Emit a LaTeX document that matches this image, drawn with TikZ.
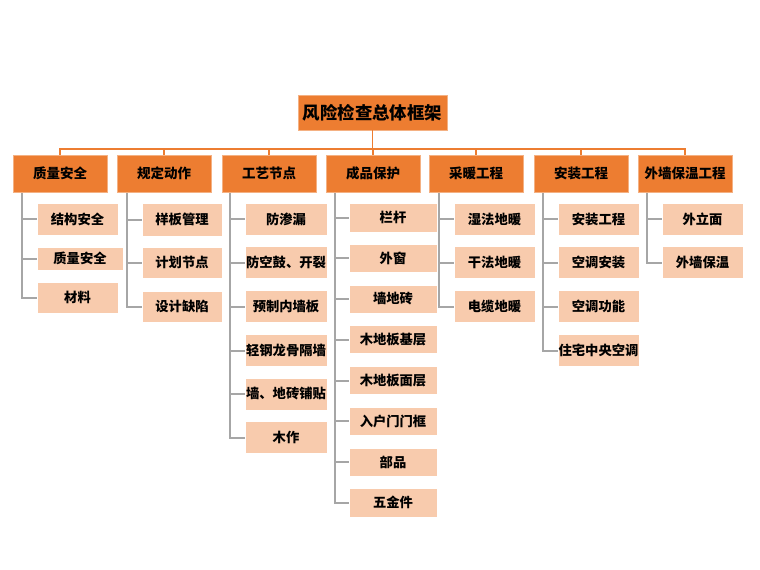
\documentclass[tikz,border=0pt]{standalone}
\usepackage{fontspec}
\newfontfamily\cjk{Noto Sans CJK SC}
\definecolor{org}{HTML}{ED7D31}
\definecolor{orgline}{HTML}{F4B183}
\definecolor{peach}{HTML}{F8CBAD}
\definecolor{gline}{HTML}{A6A6A6}
\tikzset{
  titlebox/.style={draw=orgline, line width=0.8pt, fill=org, inner sep=0pt, minimum width=149pt, minimum height=35pt, font=\cjk\bfseries\fontsize{17.4}{20}\selectfont},
  catbox/.style={draw=orgline, line width=0.6pt, fill=org, inner sep=0pt, minimum width=94pt, minimum height=37pt, font=\cjk\bfseries\fontsize{13.5}{16}\selectfont},
  itembox/.style={draw=white, line width=0.6pt, fill=peach, inner sep=0pt, minimum width=81pt, minimum height=32pt, font=\cjk\bfseries\fontsize{13.3}{16}\selectfont},
  oline/.style={draw=org, line width=1.3pt},
  gl/.style={draw=gline, line width=2pt},
}
\begin{document}
\begin{tikzpicture}[x=1pt, y=-1pt]
\useasboundingbox[fill=white] (0,0) rectangle (760,570);
% title
\node[titlebox] (T) at (372.5,112.5) {风险检查总体框架};
% categories
\node[catbox] (L1) at (60,173.5) {质量安全};
\node[catbox] (L2) at (164,173.5) {规定动作};
\node[catbox] (L3) at (269,173.5) {工艺节点};
\node[catbox] (L4) at (373,173.5) {成品保护};
\node[catbox] (L5) at (476,173.5) {采暖工程};
\node[catbox] (L6) at (581,173.5) {安装工程};
\node[catbox] (L7) at (685,173.5) {外墙保温工程};
\coordinate (bus) at (0,149);
\draw[oline] (T.south) -- (T.south |- bus);
\draw[oline] (L1.north) -- (L1.north |- bus) -- (L7.north |- bus) -- (L7.north);
\foreach \n in {L2,L3,L4,L5,L6} \draw[oline] (\n.north) -- (\n.north |- bus);
% column 1
\node[itembox] (A1) at (77.5,219) {结构安全};
\node[itembox, minimum width=86pt, minimum height=23pt] (A2) at (80,258.5) {质量安全};
\node[itembox, minimum height=31pt] (A3) at (77.5,297.5) {材料};
\coordinate (v1) at (22,193);
\draw[gl] (v1) |- (A3.west);
\foreach \n in {A1,A2} \draw[gl] (v1 |- \n.west) -- (\n.west);
% column 2
\node[itembox, minimum width=80pt, minimum height=33pt] (B1) at (182,219.5) {样板管理};
\node[itembox, minimum width=80pt, minimum height=31pt] (B2) at (182,262.5) {计划节点};
\node[itembox, minimum width=80pt, minimum height=31pt] (B3) at (182,306.5) {设计缺陷};
\coordinate (v2) at (127,193);
\draw[gl] (v2) |- (B3.west);
\foreach \n in {B1,B2} \draw[gl] (v2 |- \n.west) -- (\n.west);
% column 3
\tikzset{c3/.style={itembox, minimum width=82pt}}
\node[c3] (C1) at (286,219) {防渗漏};
\node[c3] (C2) at (286,262.5) {防空鼓、开裂};
\node[c3] (C3) at (286,306.5) {预制内墙板};
\node[c3] (C4) at (286,350.5) {轻钢龙骨隔墙};
\node[c3] (C5) at (286,394) {墙、地砖铺贴};
\node[c3] (C6) at (286,437.5) {木作};
\coordinate (v3) at (230,193);
\draw[gl] (v3) |- (C6.west);
\foreach \n in {C1,C2,C3,C4,C5} \draw[gl] (v3 |- \n.west) -- (\n.west);
% column 4
\tikzset{c4/.style={itembox, minimum width=88pt, minimum height=28pt}}
\node[c4, minimum height=29pt] (D1) at (393,217.5) {栏杆};
\node[c4] (D2) at (393,258) {外窗};
\node[c4] (D3) at (393,299) {墙地砖};
\node[c4] (D4) at (393,339.5) {木地板基层};
\node[c4] (D5) at (393,380.5) {木地板面层};
\node[c4] (D6) at (393,421) {入户门门框};
\node[c4] (D7) at (393,462) {部品};
\node[c4, minimum height=29pt] (D8) at (393,502.5) {五金件};
\coordinate (v4) at (335,193);
\draw[gl] (v4) |- (D8.west);
\foreach \n in {D1,D2,D3,D4,D5,D6,D7} \draw[gl] (v4 |- \n.west) -- (\n.west);
% column 5
\node[itembox] (E1) at (494.5,219) {湿法地暖};
\node[itembox] (E2) at (494.5,262.5) {干法地暖};
\node[itembox] (E3) at (494.5,306.5) {电缆地暖};
\coordinate (v5) at (439,193);
\draw[gl] (v5) |- (E3.west);
\foreach \n in {E1,E2} \draw[gl] (v5 |- \n.west) -- (\n.west);
% column 6
\node[itembox] (F1) at (598.5,219) {安装工程};
\node[itembox] (F2) at (598.5,262.5) {空调安装};
\node[itembox] (F3) at (598.5,306.5) {空调功能};
\node[itembox] (F4) at (598.5,350.5) {住宅中央空调};
\coordinate (v6) at (543,193);
\draw[gl] (v6) |- (F4.west);
\foreach \n in {F1,F2,F3} \draw[gl] (v6 |- \n.west) -- (\n.west);
% column 7
\node[itembox] (G1) at (702.5,219) {外立面};
\node[itembox] (G2) at (702.5,262.5) {外墙保温};
\coordinate (v7) at (647,193);
\draw[gl] (v7) |- (G2.west);
\draw[gl] (v7 |- G1.west) -- (G1.west);
\end{tikzpicture}
\end{document}
